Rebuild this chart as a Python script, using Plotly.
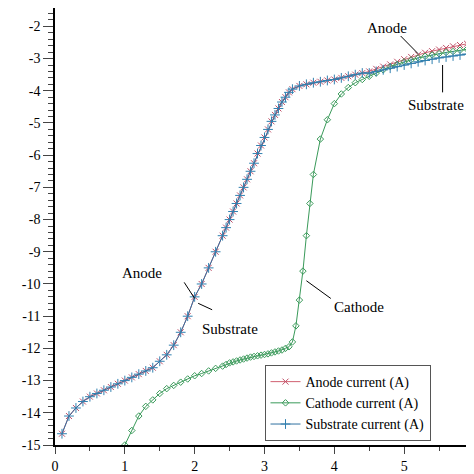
import plotly.graph_objects as go

# Anode / substrate share x grid
x_as = [0.1,0.2,0.3,0.4,0.5,0.6,0.7,0.8,0.9,1.0,1.1,1.2,1.3,1.4,1.5,1.6,1.7,1.8,1.9,2.0,
        2.1,2.2,2.3,2.4,2.45,2.5,2.55,2.6,2.65,2.7,2.75,2.8,2.85,2.9,2.95,3.0,3.05,3.1,3.15,3.2,3.25,3.3,3.35,
        3.4,3.5,3.6,3.7,3.8,3.9,4.0,4.1,4.2,4.3,4.4,4.5,4.6,4.7,4.8,4.9,5.0,5.1,5.2,5.3,5.4,5.5,5.6,5.7,5.8,5.9,6.0]
common = [-14.65,-14.1,-13.85,-13.65,-13.5,-13.4,-13.3,-13.2,-13.1,-13.0,-12.9,-12.8,-12.7,-12.6,-12.4,-12.2,-11.9,-11.5,-11.0,-10.4,
          -10.0,-9.5,-9.0,-8.5,-8.25,-8.0,-7.75,-7.5,-7.25,-7.0,-6.75,-6.5,-6.25,-5.95,-5.7,-5.45,-5.2,-4.95,-4.75,-4.55,-4.35,-4.2,-4.05,
          -3.95,-3.85,-3.8,-3.75,-3.72,-3.68,-3.65,-3.6,-3.55,-3.5,-3.45]
anode = common + [-3.4,-3.32,-3.25,-3.18,-3.1,-3.02,-2.95,-2.88,-2.82,-2.77,-2.72,-2.67,-2.62,-2.58,-2.54,-2.5]
substrate = common + [-3.45,-3.4,-3.35,-3.3,-3.25,-3.2,-3.15,-3.1,-3.06,-3.02,-2.98,-2.95,-2.92,-2.89,-2.86,-2.83]

x_c = [1.0,1.1,1.2,1.3,1.4,1.5,1.6,1.7,1.8,1.9,2.0,2.1,2.2,2.3,2.4,2.45,2.5,2.55,2.6,2.65,2.7,2.75,2.8,2.85,2.9,2.95,3.0,
       3.05,3.1,3.15,3.2,3.25,3.3,3.35,3.4,3.45,3.5,3.55,3.6,3.65,3.7,3.8,3.9,4.0,4.1,4.2,4.3,4.4,4.5,4.6,4.7,4.8,4.9,
       5.0,5.1,5.2,5.3,5.4,5.5,5.6,5.7,5.8,5.9,6.0]
cathode = [-15.0,-14.55,-14.1,-13.8,-13.6,-13.4,-13.25,-13.15,-13.05,-12.95,-12.85,-12.78,-12.7,-12.62,-12.55,-12.5,-12.45,-12.42,-12.39,-12.36,-12.33,-12.3,-12.27,-12.25,-12.23,-12.21,-12.19,
           -12.17,-12.14,-12.11,-12.08,-12.05,-12.0,-11.95,-11.8,-11.3,-10.5,-9.6,-8.5,-7.5,-6.6,-5.5,-4.9,-4.4,-4.1,-3.9,-3.75,-3.65,-3.55,-3.45,-3.35,-3.25,-3.18,
           -3.1,-3.04,-2.98,-2.93,-2.89,-2.85,-2.81,-2.78,-2.74,-2.71,-2.68]

x_ticks = [0, 1, 2, 3, 4, 5, 6]
x_ticktext = ["0", "1", "2", "3", "4", "5", "6"]
y_ticks = [-15, -14, -13, -12, -11, -10, -9, -8, -7, -6, -5, -4, -3, -2]
y_ticktext = ["-15", "-14", "-13", "-12", "-11", "-10", "-9", "-8", "-7", "-6", "-5", "-4", "-3", "-2"]

SERIF = "Liberation Serif, Times New Roman, serif"

fig = go.Figure()
fig.add_trace(go.Scatter(x=x_as, y=anode, name="Anode current (A)", mode="lines+markers",
    line=dict(color="#d06070", width=1), marker=dict(symbol="x-thin", size=6, line=dict(color="#c05068", width=1))))
fig.add_trace(go.Scatter(x=x_c, y=cathode, name="Cathode current (A)", mode="lines+markers",
    line=dict(color="#3a9a5a", width=1), marker=dict(symbol="diamond-open", size=5, color="#3a9a5a")))
fig.add_trace(go.Scatter(x=x_as, y=substrate, name="Substrate current (A)", mode="lines+markers",
    line=dict(color="#3070a0", width=1), marker=dict(symbol="cross-thin", size=7, line=dict(color="#3080b0", width=1))))

labels = [("Anode", 4.76, -2.05, 4.95, -2.3, 5.2, -2.85),
          ("Substrate", 5.45, -4.45, 5.55, -4.05, 5.55, -3.2),
          ("Anode", 1.25, -9.66, 1.85, -9.95, 2.0, -10.45),
          ("Substrate", 2.5, -11.4, 2.25, -10.8, 2.05, -10.6),
          ("Cathode", 4.35, -10.7, 3.95, -10.45, 3.6, -9.9)]
for t, tx, ty, x0, y0, x1, y1 in labels:
    fig.add_annotation(x=tx, y=ty, text=t, showarrow=False, font=dict(size=15, family=SERIF))
    fig.add_shape(type="line", x0=x0, y0=y0, x1=x1, y1=y1, line=dict(color="black", width=1))

fig.update_layout(width=474, height=474, margin=dict(l=47, r=8, t=0, b=37),
    paper_bgcolor="white", plot_bgcolor="white",
    font=dict(family=SERIF, size=14, color="black"),
    legend=dict(x=0.5, y=0.183, xanchor="left", yanchor="top", bordercolor="#555", borderwidth=1,
                bgcolor="white", font=dict(size=14, family=SERIF), tracegroupgap=0))
fig.update_xaxes(range=[0, 6], tickvals=x_ticks, ticktext=x_ticktext, tickfont=dict(family=SERIF, size=14),
                 ticks="outside", ticklen=7, showline=True, linecolor="black",
                 linewidth=1.5, showgrid=False, zeroline=False, minor=dict(dtick=0.5, ticks="outside", ticklen=4))
fig.update_yaxes(range=[-15, -1.43], tickvals=y_ticks, ticktext=y_ticktext, tickfont=dict(family=SERIF, size=14),
                 ticks="outside", ticklen=10, showline=True, linecolor="black",
                 linewidth=1.5, showgrid=False, zeroline=False, minor=dict(dtick=0.2, ticks="outside", ticklen=5))
fig.write_html("out.html")
